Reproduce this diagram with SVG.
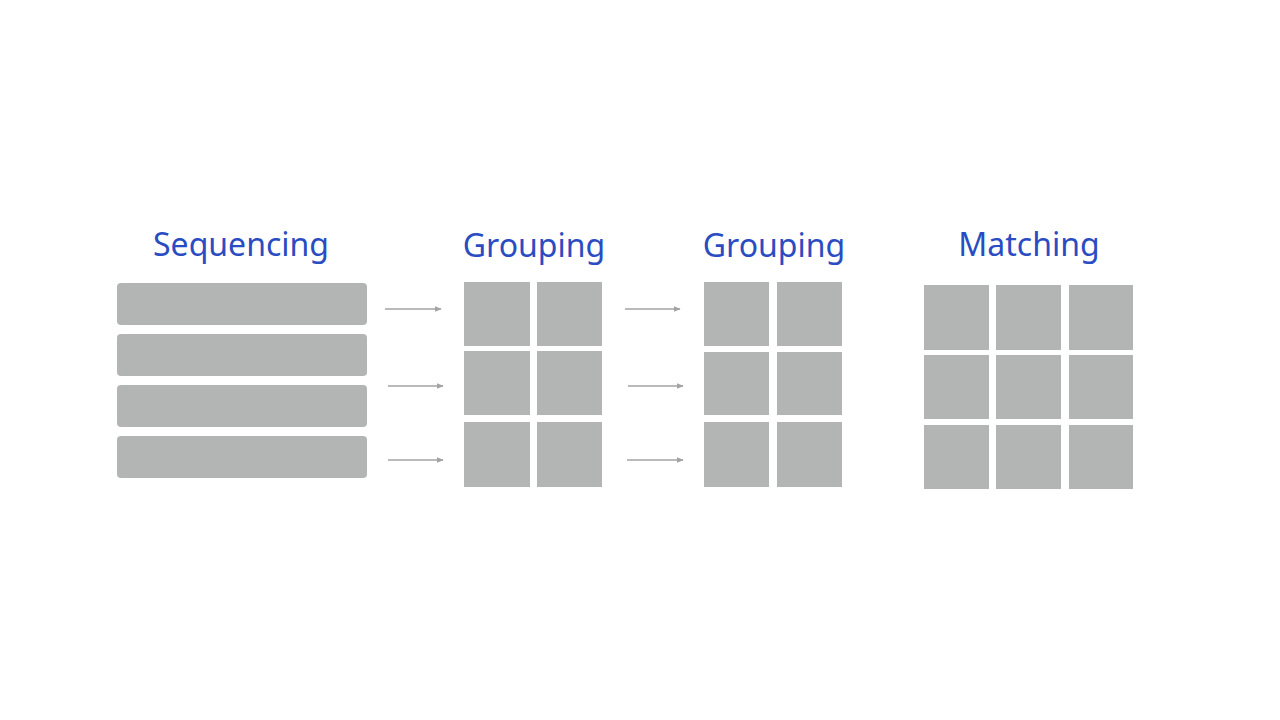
<svg xmlns="http://www.w3.org/2000/svg" width="1280" height="720" viewBox="0 0 1280 720">
<style>
.t{font-family:"Noto Sans","Open Sans","Liberation Sans",sans-serif;font-size:32px;fill:#2a4cc2;text-anchor:middle}
.b{fill:#b3b4b4}
.a{stroke:#a3a3a3;stroke-width:1.6;fill:none;marker-end:url(#ah)}
</style>
<defs>
<marker id="ah" viewBox="0 0 10 10" refX="9" refY="5" markerWidth="7" markerHeight="7" markerUnits="userSpaceOnUse" orient="auto">
<path d="M0,1 L10,5 L0,9 Z" fill="#a3a3a3"/>
</marker>
</defs>
<rect width="1280" height="720" fill="#ffffff"/>
<g id="sequencing">
<text class="t" x="241" y="256">Sequencing</text>
<rect class="b" x="117" y="283" width="250" height="42" rx="4"/>
<rect class="b" x="117" y="334" width="250" height="42" rx="4"/>
<rect class="b" x="117" y="385" width="250" height="42" rx="4"/>
<rect class="b" x="117" y="436" width="250" height="42" rx="4"/>
</g>
<g id="grouping1">
<text class="t" x="534" y="257">Grouping</text>
<rect class="b" x="464" y="282" width="66" height="64"/>
<rect class="b" x="537" y="282" width="65" height="64"/>
<rect class="b" x="464" y="351" width="66" height="64"/>
<rect class="b" x="537" y="351" width="65" height="64"/>
<rect class="b" x="464" y="422" width="66" height="65"/>
<rect class="b" x="537" y="422" width="65" height="65"/>
</g>
<g id="grouping2">
<text class="t" x="774" y="257">Grouping</text>
<rect class="b" x="704" y="282" width="65" height="64"/>
<rect class="b" x="777" y="282" width="65" height="64"/>
<rect class="b" x="704" y="352" width="65" height="63"/>
<rect class="b" x="777" y="352" width="65" height="63"/>
<rect class="b" x="704" y="422" width="65" height="65"/>
<rect class="b" x="777" y="422" width="65" height="65"/>
</g>
<g id="matching">
<text class="t" x="1029" y="256">Matching</text>
<rect class="b" x="924" y="285" width="65" height="65"/>
<rect class="b" x="996" y="285" width="65" height="65"/>
<rect class="b" x="1069" y="285" width="64" height="65"/>
<rect class="b" x="924" y="355" width="65" height="64"/>
<rect class="b" x="996" y="355" width="65" height="64"/>
<rect class="b" x="1069" y="355" width="64" height="64"/>
<rect class="b" x="924" y="425" width="65" height="64"/>
<rect class="b" x="996" y="425" width="65" height="64"/>
<rect class="b" x="1069" y="425" width="64" height="64"/>
</g>
<g id="connectors">
<line class="a" x1="385" y1="309" x2="441" y2="309"/>
<line class="a" x1="388" y1="386" x2="443" y2="386"/>
<line class="a" x1="388" y1="460" x2="443" y2="460"/>
<line class="a" x1="625" y1="309" x2="680" y2="309"/>
<line class="a" x1="628" y1="386" x2="683" y2="386"/>
<line class="a" x1="627" y1="460" x2="683" y2="460"/>
</g>
</svg>
